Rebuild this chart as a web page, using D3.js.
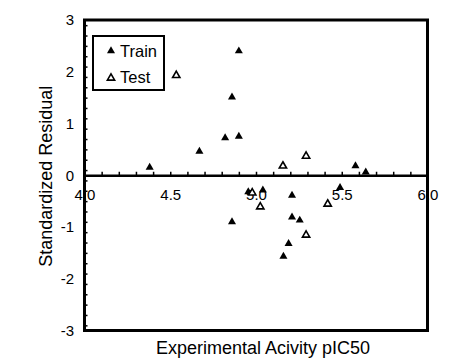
<!DOCTYPE html>
<html>
<head>
<meta charset="utf-8">
<script src="https://cdn.jsdelivr.net/npm/d3@7"></script>
<style>
html,body{margin:0;padding:0;background:#fff;}
svg{display:block;font-family:Arial,"Liberation Sans",sans-serif;}
</style>
</head>
<body>
<svg id="chart" width="474" height="358"></svg>
<script>
// Data
const trainX = [4.38, 4.67, 4.82, 4.90, 4.86, 4.90, 4.86, 4.955, 5.04, 5.21, 5.21, 5.255, 5.19, 5.16, 5.49, 5.58, 5.64];
const trainY = [0.15, 0.46, 0.72, 0.75, 1.51, 2.40, -0.90, -0.32, -0.29, -0.39, -0.81, -0.87, -1.32, -1.57, -0.24, 0.18, 0.06];
const testX = [4.535, 5.157, 5.292, 5.025, 5.418, 5.292, 4.978];
const testY = [1.93, 0.18, 0.37, -0.61, -0.555, -1.155, -0.34];
const xTickLabels = [4.0, 4.5, 5.0, 5.5, 6.0];
const yTickLabels = [-3, -2, -1, 0, 1, 2, 3];
const seriesNames = ["Train", "Test"];

const svg = d3.select("#chart");
const L = 84.5, R = 427.5, T = 20, B = 330.5;
const x = d3.scaleLinear().domain([4, 6]).range([L, R]);
const y = d3.scaleLinear().domain([-3, 3]).range([B, T]);

// minor ticks on left (inside)
const yMinor = d3.range(-29, 30, 2).map(d => d / 10);
svg.append("g")
  .attr("transform", `translate(${L},0)`)
  .call(d3.axisRight(y).tickValues(yMinor).tickSize(3).tickFormat(""))
  .call(g => g.select(".domain").remove())
  .call(g => g.selectAll("line").attr("stroke", "#000").attr("stroke-width", 1.5));

// y labels
svg.append("g")
  .attr("transform", `translate(${L},0)`)
  .call(d3.axisLeft(y).tickValues(yTickLabels).tickSize(0).tickPadding(10.5).tickFormat(d => String(d)))
  .call(g => g.select(".domain").remove())
  .call(g => g.selectAll("text").attr("font-size", 15).attr("fill", "#000").attr("font-family", "Arial, 'Liberation Sans', sans-serif"));

// zero line with ticks above
const xMinor = d3.range(41, 60, 1).map(d => d / 10);
svg.append("g")
  .attr("transform", `translate(0,${y(0)})`)
  .call(d3.axisTop(x).tickValues(xMinor).tickSize(3.5).tickSizeOuter(0).tickFormat(""))
  .call(g => g.select(".domain").attr("stroke", "#000").attr("stroke-width", 2.5))
  .call(g => g.selectAll("line").attr("stroke", "#000").attr("stroke-width", 1.5));

// x labels below zero line
svg.append("g")
  .attr("transform", `translate(0,${y(0)})`)
  .call(d3.axisBottom(x).tickValues(xTickLabels).tickSize(0).tickFormat(d3.format(".1f")))
  .call(g => g.select(".domain").remove())
  .call(g => g.selectAll("text").attr("y", 24.5).attr("dy", 0).attr("font-size", 15).attr("fill", "#000").attr("font-family", "Arial, 'Liberation Sans', sans-serif"));

// frame
svg.append("rect")
  .attr("x", L).attr("y", T).attr("width", R - L).attr("height", B - T)
  .attr("fill", "none").attr("stroke", "#000").attr("stroke-width", 3);

// points
const tri = d3.symbol().type(d3.symbolTriangle).size(28);
const trainData = trainX.map((d, i) => [d, trainY[i]]);
const testData = testX.map((d, i) => [d, testY[i]]);
svg.append("g").selectAll("path").data(trainData).join("path")
  .attr("d", tri)
  .attr("transform", d => `translate(${x(d[0])},${y(d[1])})`)
  .attr("fill", "#000");
const triO = d3.symbol().type(d3.symbolTriangle).size(23);
svg.append("g").selectAll("path").data(testData).join("path")
  .attr("d", triO)
  .attr("transform", d => `translate(${x(d[0])},${y(d[1])})`)
  .attr("fill", "#fff").attr("stroke", "#000").attr("stroke-width", 1.6);

// legend
const lg = svg.append("g");
lg.append("rect").attr("x", 93).attr("y", 36).attr("width", 71).attr("height", 54)
  .attr("fill", "#fff").attr("stroke", "#000").attr("stroke-width", 2);
lg.append("path").attr("d", tri).attr("transform", "translate(111,51)").attr("fill", "#000");
lg.append("path").attr("d", triO).attr("transform", "translate(111,78)").attr("fill", "#fff").attr("stroke", "#000").attr("stroke-width", 1.6);
lg.append("text").attr("x", 120).attr("y", 56.5).attr("font-size", 16.5).text(seriesNames[0]);
lg.append("text").attr("x", 120).attr("y", 82.5).attr("font-size", 16.5).text(seriesNames[1]);

// axis titles
svg.append("text")
  .attr("transform", `translate(51.5,${(T + B) / 2 + 1}) rotate(-90)`)
  .attr("text-anchor", "middle").attr("font-size", 18)
  .text("Standardized Residual");
svg.append("text")
  .attr("x", 263).attr("y", 353.5)
  .attr("text-anchor", "middle").attr("font-size", 18)
  .text("Experimental Acivity pIC50");
</script>
</body>
</html>
